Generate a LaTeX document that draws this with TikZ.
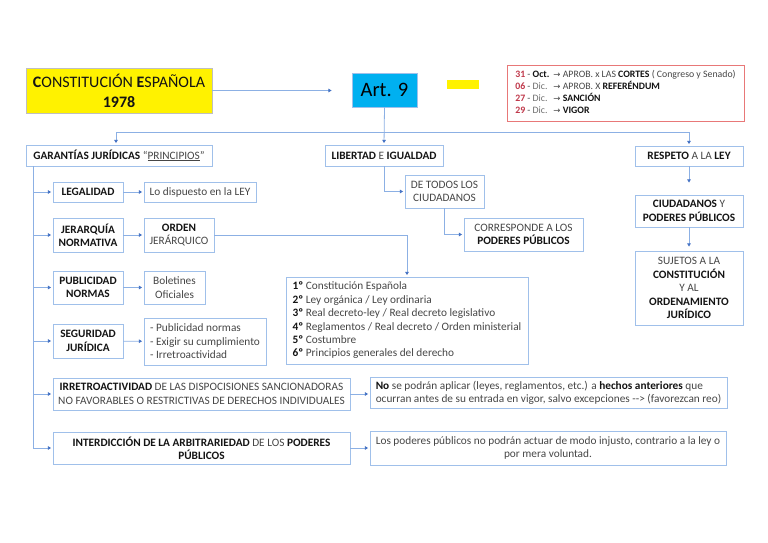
\documentclass[tikz,border=0pt]{standalone}
\usepackage{fontspec}
\setmainfont{Carlito}
\newfontfamily\symfont{DejaVu Sans}
\usetikzlibrary{arrows.meta}
\definecolor{boxblue}{RGB}{160,192,234}
\definecolor{lineblue}{RGB}{140,176,228}
\definecolor{tipblue}{RGB}{68,114,196}
\definecolor{txt}{RGB}{70,70,70}
\definecolor{dark}{RGB}{20,20,20}
\definecolor{numred}{RGB}{192,57,75}
\definecolor{redborder}{RGB}{232,120,120}
\definecolor{artblue}{RGB}{0,176,240}
\definecolor{dicgray}{RGB}{110,110,110}
\newcommand{\B}[1]{{\bfseries\color{dark}#1}}
\newcommand{\rarr}{{\symfont\fontsize{8.5}{10}\selectfont →}}
\newcommand{\N}[1]{{\bfseries\color{numred}#1}}
\begin{document}
\begin{tikzpicture}[x=1pt,y=-1pt,
  box/.style={draw=boxblue, line width=0.9pt, inner sep=0pt, align=center, text=txt,
    font=\fontsize{11.3}{13.4}\selectfont},
  conn/.style={draw=lineblue, line width=0.8pt},
  arr/.style={conn, -{Triangle[length=3.2pt,width=3.6pt,color=tipblue]}, shorten >=1.5pt}]
\useasboundingbox[fill=white] (0,0) rectangle (768,543);

% top row
\node[box, draw=black!25, fill=yellow, text=dark, minimum width=186pt, minimum height=45pt,
  font=\fontsize{16}{20}\selectfont] (title) at (119,90.5)
  {{\bfseries C}ONSTITUCIÓN {\bfseries E}SPAÑOLA\\{\bfseries 1978}};
\node[box, fill=artblue, text=black, minimum width=65pt, minimum height=34pt,
  font=\fontsize{20.5}{24}\selectfont] (art) at (384.5,90) {Art. 9};
\node[fill=yellow, inner sep=0pt, minimum width=32pt, minimum height=9pt] (mark) at (463,84.5) {};
\node[box, draw=redborder, align=left, minimum width=237pt, minimum height=56pt,
  font=\fontsize{9.8}{11.9}\selectfont] (fechas) at (625.5,93)
  {\begin{tabular}{@{}l@{\hspace{4pt}}l@{}}
   \N{31} - \B{Oct.} & \rarr\ APROB. x LAS \B{CORTES} ( Congreso y Senado)\\
   \N{06} - {\color{dicgray}Dic.} & \rarr\ APROB. X \B{REFERÉNDUM}\\
   \N{27} - {\color{dicgray}Dic.} & \rarr\ \B{SANCIÓN}\\
   \N{29} - {\color{dicgray}Dic.} & \rarr\ \B{VIGOR}
   \end{tabular}};

% second row
\node[box, minimum width=186pt, minimum height=21pt] (gar) at (119,155.5)
  {\B{GARANTÍAS JURÍDICAS} “\underline{PRINCIPIOS}”};
\node[box, minimum width=118pt, minimum height=21pt] (lib) at (384,155.5)
  {\B{LIBERTAD} E \B{IGUALDAD}};
\node[box, minimum width=108pt, minimum height=20pt] (resp) at (689,156)
  {\B{RESPETO} A LA \B{LEY}};

% left column
\node[box, minimum width=70pt, minimum height=20pt] (leg) at (88,192) {\B{LEGALIDAD}};
\node[box, minimum width=112pt, minimum height=20pt] (ley) at (200,192) {Lo dispuesto en la LEY};
\node[box, minimum width=70pt, minimum height=34pt] (jer) at (88,235) {\B{JERARQUÍA}\\\B{NORMATIVA}};
\node[box, minimum width=70pt, minimum height=34pt] (ord) at (179,235) {\B{ORDEN}\\JERÁRQUICO};
\node[box, minimum width=70pt, minimum height=33pt] (pub) at (88,287.5) {\B{PUBLICIDAD}\\\B{NORMAS}};
\node[box, minimum width=61pt, minimum height=33pt] (bol) at (174.5,287.5) {Boletines\\Oficiales};
\node[box, minimum width=70pt, minimum height=34pt] (seg) at (88,341) {\B{SEGURIDAD}\\\B{JURÍDICA}};
\node[box, align=left, minimum width=122pt, minimum height=47pt] (bul) at (205,341.5)
  {- Publicidad normas\\- Exigir su cumplimiento\\- Irretroactividad};

% middle
\node[box, align=left, minimum width=242pt, minimum height=87pt] (lista) at (407,320.5)
  {\B{1º} Constitución Española\\
   \B{2º} Ley orgánica / Ley ordinaria\\
   \B{3º} Real decreto-ley / Real decreto legislativo\\
   \B{4º} Reglamentos / Real decreto / Orden ministerial\\
   \B{5º} Costumbre\\
   \B{6º} Principios generales del derecho};
\node[box, minimum width=79pt, minimum height=33pt] (todos) at (444.5,191.5) {DE TODOS LOS\\CIUDADANOS};
\node[box, minimum width=119pt, minimum height=33pt] (corr) at (523.5,234.5) {CORRESPONDE A LOS\\\B{PODERES PÚBLICOS}};

% right column
\node[box, minimum width=108pt, minimum height=32pt] (ciu) at (689,211) {\B{CIUDADANOS} Y\\\B{PODERES PÚBLICOS}};
\node[box, minimum width=108pt, minimum height=74pt] (suj) at (689,288)
  {SUJETOS A LA\\\B{CONSTITUCIÓN}\\Y AL\\\B{ORDENAMIENTO}\\\B{JURÍDICO}};

% bottom rows
\node[box, minimum width=297pt, minimum height=32pt] (irr) at (201.5,394)
  {\B{IRRETROACTIVIDAD} DE LAS DISPOCISIONES SANCIONADORAS\\NO FAVORABLES O RESTRICTIVAS DE DERECHOS INDIVIDUALES};
\node[box, minimum width=297pt, minimum height=32pt] (int) at (201.5,448)
  {\B{INTERDICCIÓN DE LA ARBITRARIEDAD} DE LOS \B{PODERES}\\\B{PÚBLICOS}};
\node[box, align=left, minimum width=357pt, minimum height=31pt] (noap) at (548.5,393)
  {\B{No} se podrán aplicar (leyes, reglamentos, etc.) a \B{hechos anteriores} que\\ocurran antes de su entrada en vigor, salvo excepciones -{}-{}> (favorezcan reo)};
\node[box, minimum width=356pt, minimum height=34pt] (pod) at (548,448)
  {Los poderes públicos no podrán actuar de modo injusto, contrario a la ley o\\por mera voluntad.};

% connectors
\coordinate (j) at (384.5,132);
\coordinate (jl) at (116,132);
\coordinate (sp) at (33,166);
\draw[arr, shorten >=20pt] (title.east) -- (title.east -| art.west);
\draw[arr] (art.south) -- (lib.north);
\draw[arr] (j) -- (jl) -- (jl |- gar.north);
\draw[arr] (j) -| (resp.north);
\draw[conn] (sp) -- (sp |- int.west);
\foreach \n in {leg,jer,pub,seg,irr,int}{
  \draw[arr] (sp |- \n.west) -- (\n.west);
}
\draw[arr] (leg) -- (ley);
\draw[arr] (jer) -- (ord);
\draw[arr] (pub) -- (bol);
\draw[arr] (seg) -- (bul);
\draw[arr] (irr) -- (noap.west |- irr.east);
\draw[arr] (int) -- (pod);
\draw[arr] (ord.east) -| (lista.north);
\draw[arr] (lib.south) |- (todos.west);
\draw[arr] (todos.south) |- (corr.west);
\draw[arr, shorten >=12pt] (resp) -- (ciu);
\draw[arr, shorten >=4pt] (ciu) -- (suj);
\end{tikzpicture}
\end{document}
